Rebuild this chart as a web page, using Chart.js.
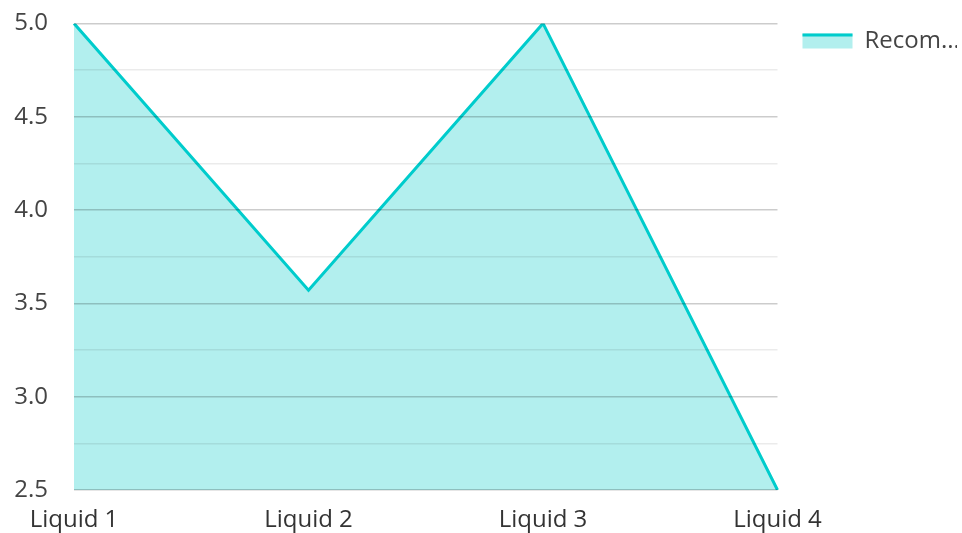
<!DOCTYPE html>
<html>
<head>
<meta charset="utf-8">
<script src="https://cdn.jsdelivr.net/npm/chart.js@4/dist/chart.umd.min.js"></script>
<style>
  html, body { margin: 0; padding: 0; background: #fff; }
  #wrap { width: 962px; height: 533px; }
</style>
</head>
<body>
<div id="wrap"><canvas id="chart"></canvas></div>
<script>
const categories = ['Liquid 1', 'Liquid 2', 'Liquid 3', 'Liquid 4'];
const seriesName = 'Recommended';
const seriesValues = [5.0, 3.57, 5.0, 2.5];
const yTicks = [2.5, 3.0, 3.5, 4.0, 4.5, 5.0];

const lineColor = '#00cccc';
const fillColor = '#b2efee';

// draw only a top stroke on the legend swatch
const legendLine = {
  id: 'legendLine',
  afterDraw(chart) {
    const lg = chart.legend;
    if (!lg || !lg.legendHitBoxes) return;
    const ctx = chart.ctx;
    lg.legendHitBoxes.forEach(box => {
      ctx.save();
      ctx.fillStyle = lineColor;
      ctx.fillRect(box.left, box.top + (box.height - 15) / 2, 50, 3);
      ctx.restore();
    });
  }
};

Chart.defaults.font.family = '"Open Sans", "Noto Sans", sans-serif';
Chart.defaults.color = '#444';

const chart = new Chart(document.getElementById('chart'), {
  type: 'line',
  data: {
    labels: categories,
    datasets: [{
      label: seriesName,
      data: seriesValues,
      borderColor: lineColor,
      backgroundColor: fillColor,
      borderWidth: 3,
      fill: 'start',
      tension: 0,
      pointRadius: 0
    }]
  },
  options: {
    responsive: true,
    maintainAspectRatio: false,
    animation: false,
    layout: { padding: { top: 0, left: 0, bottom: 0, right: 5 } },
    plugins: {
      tooltip: { enabled: false },
      legend: {
        position: 'right',
        align: 'start',
        title: { display: true, text: ' ', font: { size: 10 }, padding: { top: 0, bottom: 12 } },
        labels: {
          boxWidth: 50,
          boxHeight: 15,
          padding: 5,
          font: { size: 24 },
          color: '#333',
          generateLabels(chart) {
            return chart.data.datasets.map((ds, i) => ({
              text: ds.label.slice(0, 5) + '...',
              fillStyle: fillColor,
              strokeStyle: fillColor,
              lineWidth: 0,
              datasetIndex: i
            }));
          }
        }
      }
    },
    scales: {
      x: {
        offset: false,
        grid: { display: false },
        border: { display: false },
        afterFit: s => { s.height = 43; },
        ticks: { font: { size: 24 }, color: '#333', padding: 8, maxRotation: 0 }
      },
      y: {
        min: 2.5,
        max: 5.0,
        border: { display: false },
        afterFit: s => { s.width = 74; },
        grid: {
          z: 1,
          drawTicks: true,
          tickLength: 17,
          tickColor: 'transparent',
          color: c => yTicks.includes(Math.round(c.tick.value * 100) / 100) ? 'rgba(0,0,0,0.2)' : 'rgba(0,0,0,0.08)',
          lineWidth: 1.5
        },
        ticks: {
          stepSize: 0.25,
          autoSkip: false,
          padding: 9,
          font: { size: 24 },
          color: '#444',
          callback: v => yTicks.includes(Math.round(v * 100) / 100) ? v.toFixed(1) : ''
        }
      },
      // spacer between plot and legend
      gap: {
        position: 'right',
        min: 0,
        max: 1,
        grid: { display: false },
        border: { display: false },
        ticks: { display: false },
        afterFit: s => { s.width = 20; }
      }
    }
  },
  plugins: [legendLine]
});
</script>
</body>
</html>
